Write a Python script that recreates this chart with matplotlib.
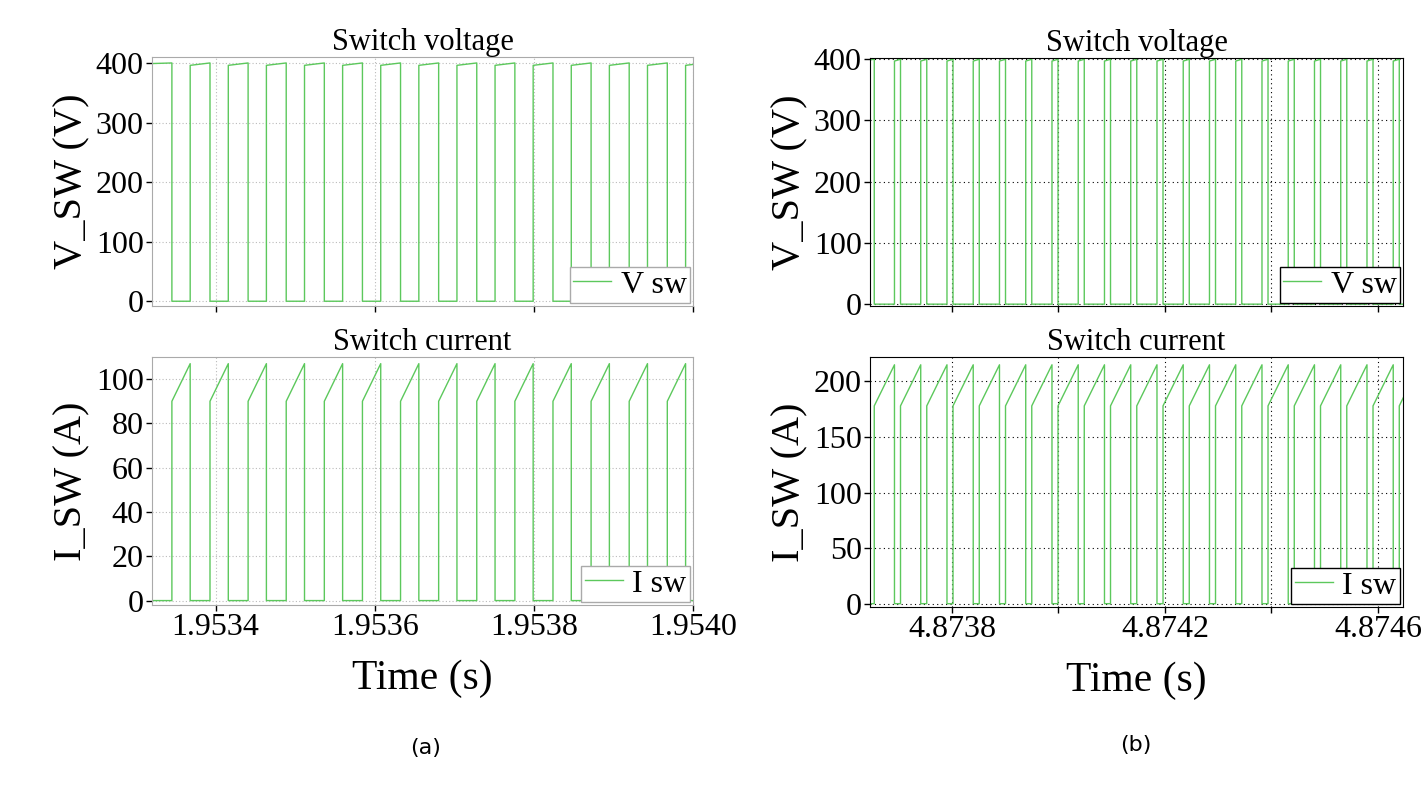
import numpy as np
import matplotlib
matplotlib.use("Agg")
import matplotlib.pyplot as plt

plt.rcParams['font.family'] = ['Liberation Serif', 'DejaVu Serif']

# waveform parameters
a_t0, a_period, a_duty = 1.953345, 4.79e-5, 0.48   # (a) first turn-on, period, on-fraction
a_v = [396, 400]          # off-state voltage start/end
a_i = [90, 107]           # on-state current start/end
b_t0, b_period, b_duty = 4.873654, 4.93e-5, 0.77
b_v = [397, 400]
b_i = [178, 215]

def wave(t0, period, duty, t_end, on_vals, off_vals, before):
    tv, vv, ti, iv = [], [], [], []
    k = 0
    while True:
        on = t0 + k * period
        off = on + duty * period
        nxt = on + period
        if on > t_end: break
        tv += [on, off, off, nxt, nxt]; vv += [0, 0, off_vals[0], off_vals[1], 0]
        ti += [on, on, off, off, nxt]; iv += [0, on_vals[0], on_vals[1], 0, 0]
        k += 1
    tv = [before, t0, t0] + tv; vv = [off_vals[1] - 1, off_vals[1], 0] + vv
    ti = [before] + ti; iv = [0] + iv
    return np.array(tv), np.array(vv), np.array(ti), np.array(iv)

fig = plt.figure(figsize=(14.24, 7.87), dpi=100)
W, H = 1424, 787
def ax_at(x0, y0, x1, y1):
    return fig.add_axes([x0 / W, 1 - y1 / H, (x1 - x0) / W, (y1 - y0) / H])

green = '#5cc85c'
TK, YL, TT, XL = 23, 29, 22, 30

xl_a = (1.95332, 1.953977)
xt_a = [1.9534, 1.9536, 1.9538, 1.9540]
axs_a = [ax_at(152, 57, 693, 306), ax_at(152, 357, 693, 605)]
axs_b = [ax_at(870, 58, 1403, 306), ax_at(870, 357, 1403, 607)]

for ax in axs_a:
    for s in ax.spines.values():
        s.set_color('#aaaaaa')
    ax.grid(True, linestyle=(0, (1, 2)), color='#bbbbbb', linewidth=0.8)
for ax in axs_b:
    for s in ax.spines.values():
        s.set_color('black')
    ax.grid(True, linestyle=(0, (1, 3)), color='black', linewidth=0.8)

tv, vv, ti, iv = wave(a_t0, a_period, a_duty, xl_a[1], a_i, a_v, xl_a[0])
ax = axs_a[0]
ax.plot(tv, vv, color=green, lw=1, label='V sw')
ax.set_xlim(*xl_a); ax.set_ylim(-8, 410)
ax.set_yticks([0, 100, 200, 300, 400]); ax.set_xticks(xt_a); ax.set_xticklabels([])
ax.set_ylabel('V_SW (V)', fontsize=YL)
ax.set_title('Switch voltage', fontsize=TT, pad=2)
ax = axs_a[1]
ax.plot(ti, iv, color=green, lw=1, label='I sw')
ax.set_xlim(*xl_a); ax.set_ylim(-2, 110)
ax.set_yticks([0, 20, 40, 60, 80, 100])
ax.set_xticks(xt_a)
ax.set_xticklabels(['1.9534', '1.9536', '1.9538', '1.9540'])
ax.set_ylabel('I_SW (A)', fontsize=YL)
ax.set_title('Switch current', fontsize=TT, pad=2)
ax.set_xlabel('Time (s)', fontsize=XL, labelpad=12)

xl_b = (4.873646, 4.874647)
xt_b = [4.8738, 4.8740, 4.8742, 4.8744, 4.8746]
xtl_b = ['4.8738', '', '4.8742', '', '4.8746']
tv, vv, ti, iv = wave(b_t0, b_period, b_duty, xl_b[1], b_i, b_v, xl_b[0])
ax = axs_b[0]
ax.plot(tv, vv, color=green, lw=1, label='V sw')
ax.set_xlim(*xl_b); ax.set_ylim(-3, 402)
ax.set_yticks([0, 100, 200, 300, 400]); ax.set_xticks(xt_b); ax.set_xticklabels([])
ax.set_ylabel('V_SW (V)', fontsize=YL)
ax.set_title('Switch voltage', fontsize=TT, pad=2)
ax = axs_b[1]
ax.plot(ti, iv, color=green, lw=1, label='I sw')
ax.set_xlim(*xl_b); ax.set_ylim(-3, 222)
ax.set_yticks([0, 50, 100, 150, 200])
ax.set_xticks(xt_b)
ax.set_xticklabels(xtl_b)
ax.set_ylabel('I_SW (A)', fontsize=YL)
ax.set_title('Switch current', fontsize=TT, pad=2)
ax.set_xlabel('Time (s)', fontsize=XL, labelpad=12)

for ax in axs_a + axs_b:
    ax.tick_params(labelsize=TK, length=4, width=1, pad=2)
    leg = ax.legend(loc='lower right', fontsize=TK, handlelength=1.2, handletextpad=0.3,
                    borderpad=0.1, borderaxespad=0.1, fancybox=False, framealpha=1)
    leg.get_frame().set_edgecolor('#aaaaaa' if ax in axs_a else 'black')

fig.text(426 / W, 1 - 748 / H, '(a)', fontsize=16, family='DejaVu Sans', ha='center', va='center')
fig.text(1136 / W, 1 - 745 / H, '(b)', fontsize=16, family='DejaVu Sans', ha='center', va='center')

fig.savefig('out.png', dpi=100)
